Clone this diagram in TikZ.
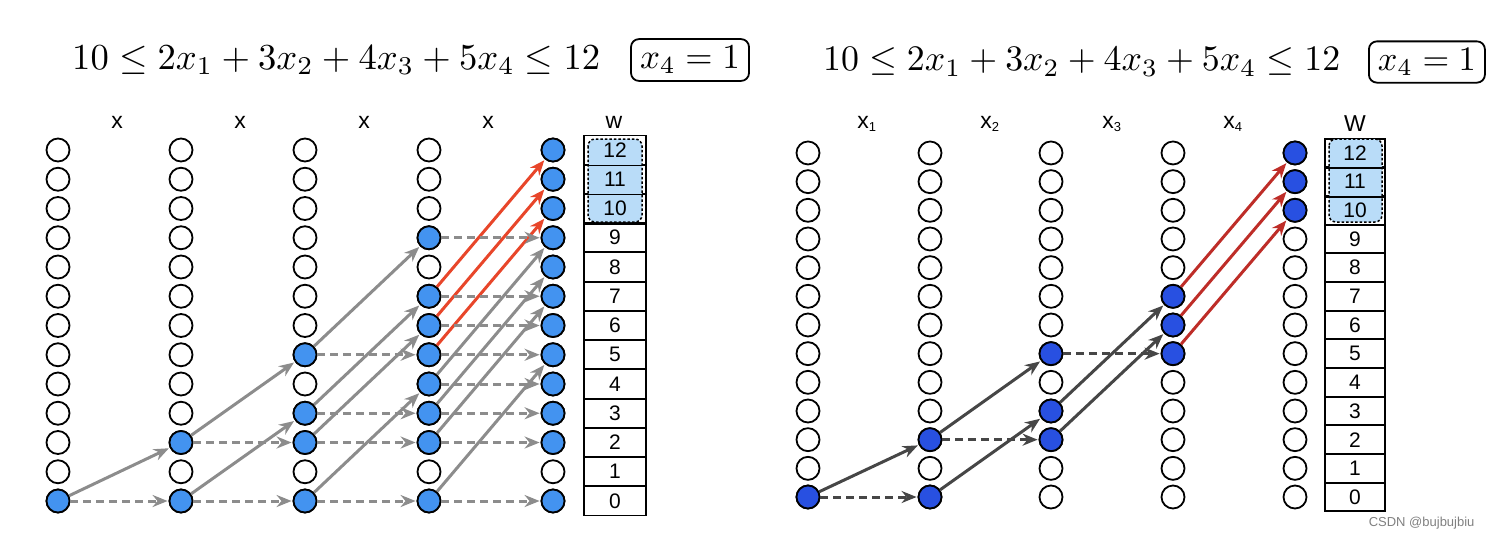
\documentclass[tikz,border=0pt]{standalone}
\usepackage{fontspec}
\setsansfont{Liberation Sans}
\usetikzlibrary{arrows.meta}
\definecolor{lblue}{RGB}{67,147,240}
\definecolor{dblue}{RGB}{40,80,225}
\definecolor{hl}{RGB}{185,220,248}
\definecolor{lgray}{RGB}{140,140,140}
\definecolor{dgray}{RGB}{70,70,70}
\definecolor{lred}{RGB}{232,70,42}
\definecolor{dred}{RGB}{190,45,40}
\tikzset{
 dot/.style={circle,draw=black,line width=1.8pt,minimum size=23pt,inner sep=0pt,fill=white},
 tip/.style={-{Stealth[length=15pt,width=12pt]},line width=3pt,shorten >=1pt},
 dsh/.style={tip,dash pattern=on 8pt off 5pt},
 cell/.style={draw=black,line width=1.8pt,minimum width=62pt,minimum height=29pt,inner sep=0pt,font=\sffamily\fontsize{21}{21}\selectfont},
 lab/.style={font=\sffamily\fontsize{23}{23}\selectfont},
 eq/.style={inner sep=0pt}
}
\begin{document}
\begin{tikzpicture}[x=1pt,y=-1pt]
\useasboundingbox (0,0) rectangle (1490,542);
% ---------- left panel ----------
\node[eq,anchor=west] (eqL) at (72,60) {\resizebox{528pt}{!}{$10\le 2x_1+3x_2+4x_3+5x_4\le 12$}};
\node[eq,draw,rounded corners=8pt,line width=1.8pt,inner xsep=9pt,inner ysep=7pt] (bxL) at (690,60) {\resizebox{100pt}{!}{$x_4=1$}};
\foreach \c/\x in {0/58,1/181,2/305,3/429,4/553}{
 \foreach \r in {0,...,12}{\node[dot] (L\c-\r) at (\x,{501-29.25*\r}) {};}}
\foreach \c/\list in {0/{0},1/{0,2},2/{0,2,3,5},3/{0,2,3,4,5,6,7,9},4/{0,2,3,4,5,6,7,8,9,10,11,12}}{
 \foreach \r in \list {\node[dot,fill=lblue] at (L\c-\r) {};}}
\foreach \x/\n in {117/a,240/b,364/c,488/d}{\node[lab] (lx\n) at (\x,122) {x};}
\node[lab] (lw) at (614,122) {w};
\foreach \r in {0,...,12}{\node[cell] (TL\r) at (615,{501-29.25*\r}) {};}
\fill[hl,rounded corners=7pt] (588,139) rectangle (642,222);
\draw[dash pattern=on 2.5pt off 2pt,line width=1.5pt,rounded corners=7pt] (588,139) rectangle (642,222);
\foreach \r in {10,11,12}{\draw[line width=1.5pt] (TL\r.south west)--(TL\r.south east);}
\foreach \r in {0,...,12}{\node[cell,draw=none] at (TL\r) {\r};}
% left edges
\foreach \c/\n/\w/\list in {0/1/2/{0},1/2/3/{0,2},2/3/4/{0,2,3,5},3/4/5/{0,2,3,4,5,6,7,9}}{
 \foreach \r in \list {
  \draw[dsh,lgray] (L\c-\r) -- (L\n-\r);
  \pgfmathtruncatemacro{\t}{\r+\w}
  \ifnum\t<13
   \ifnum\t>9 \draw[tip,lred] (L\c-\r) -- (L\n-\t);
   \else \draw[tip,lgray] (L\c-\r) -- (L\n-\t); \fi
  \fi }}
% ---------- right panel ----------
\node[eq,anchor=west] (eqR) at (823,62) {\resizebox{517pt}{!}{$10\le 2x_1+3x_2+4x_3+5x_4\le 12$}};
\node[eq,draw,rounded corners=8pt,line width=1.8pt,inner xsep=9pt,inner ysep=7pt,anchor=west] (bxR) at (1368,62) {\resizebox{98pt}{!}{$x_4=1$}\hspace{8pt}};
\foreach \c/\x in {0/808,1/930,2/1051,3/1173,4/1295}{
 \foreach \r in {0,...,12}{\node[dot] (R\c-\r) at (\x,{497-28.67*\r}) {};}}
\foreach \c/\list in {0/{0},1/{0,2},2/{2,3,5},3/{5,6,7},4/{10,11,12}}{
 \foreach \r in \list {\node[dot,fill=dblue] at (R\c-\r) {};}}
\foreach \x/\i in {867/1,990/2,1112/3,1233/4}{\node[lab] (rx\i) at (\x,124) {x\textsubscript{\fontsize{13}{13}\selectfont\i}};}
\node[lab] (rw) at (1355,124) {W};
\foreach \r in {0,...,12}{\node[cell,minimum width=60pt,minimum height=28.67pt] (TR\r) at (1355,{497-28.67*\r}) {};}
\fill[hl,rounded corners=7pt] (1329,139) rectangle (1382,222);
\draw[dash pattern=on 2.5pt off 2pt,line width=1.5pt,rounded corners=7pt] (1329,139) rectangle (1382,222);
\foreach \r in {10,11,12}{\draw[line width=1.5pt] (TR\r.south west)--(TR\r.south east);}
\foreach \r in {0,...,12}{\node[cell,draw=none] at (TR\r) {\r};}
\draw[dsh,dgray] (R0-0) -- (R1-0);
\draw[tip,dgray] (R0-0) -- (R1-2);
\draw[dsh,dgray] (R1-2) -- (R2-2);
\draw[tip,dgray] (R1-0) -- (R2-3);
\draw[tip,dgray] (R1-2) -- (R2-5);
\draw[dsh,dgray] (R2-5) -- (R3-5);
\draw[tip,dgray] (R2-2) -- (R3-6);
\draw[tip,dgray] (R2-3) -- (R3-7);
\draw[tip,dred] (R3-5) -- (R4-10);
\draw[tip,dred] (R3-6) -- (R4-11);
\draw[tip,dred] (R3-7) -- (R4-12);
\node[font=\sffamily\fontsize{13}{13}\selectfont,text=gray,anchor=east] (wm) at (1478,523) {CSDN @bujbujbiu};
\end{tikzpicture}
\end{document}
